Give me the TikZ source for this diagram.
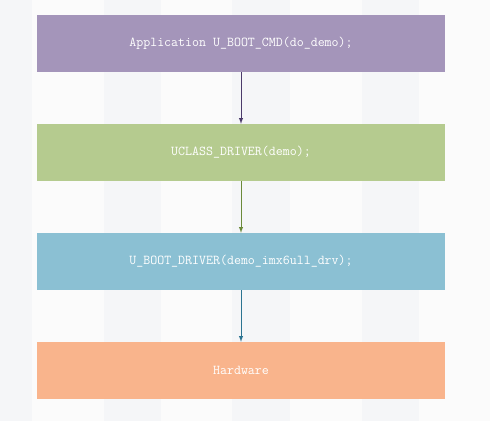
\documentclass[tikz,border=0pt]{standalone}
\usepackage{fontspec}
\usetikzlibrary{arrows}

\definecolor{stripeA}{HTML}{F5F6F8}
\definecolor{stripeB}{HTML}{FBFBFB}
\definecolor{appcol}{HTML}{A495BA}
\definecolor{ucol}{HTML}{B5CB8F}
\definecolor{drvcol}{HTML}{8BC0D3}
\definecolor{hwcol}{HTML}{F9B48C}
\definecolor{appline}{HTML}{4B3B6B}
\definecolor{uline}{HTML}{6B8A3A}
\definecolor{drvline}{HTML}{2C7491}

\tikzset{
  layer/.style={minimum width=408bp, minimum height=57bp, inner sep=0pt,
    text=white, font=\ttfamily\fontsize{13.6}{14}\selectfont},
  link/.style={-latex, line width=1bp}
}

\begin{document}
\begin{tikzpicture}[x=1bp,y=1bp]
                \useasboundingbox (0,0) rectangle (490,421);
                \fill[stripeB] (0,0) rectangle (490,421);
                \fill[stripeA] (0,0) rectangle (32,421);
                \fill[stripeA] (104,0) rectangle (161,421);
                \fill[stripeA] (232,0) rectangle (290,421);
                \fill[stripeA] (362,0) rectangle (419,421);
                \node[layer, fill=appcol] (app) at (241,377.5) {Application U\_BOOT\_CMD(do\_demo);};
                \node[layer, fill=ucol] (ucls) at (241,268.5) {UCLASS\_DRIVER(demo);};
                \node[layer, fill=drvcol] (drv) at (241,159.5) {U\_BOOT\_DRIVER(demo\_imx6ull\_drv);};
                \node[layer, fill=hwcol] (hw) at (241,50.5) {Hardware};
                \draw[link, appline] (app) -- (ucls);
                \draw[link, uline] (ucls) -- (drv);
                \draw[link, drvline] (drv) -- (hw);
            \end{tikzpicture}
\end{document}
